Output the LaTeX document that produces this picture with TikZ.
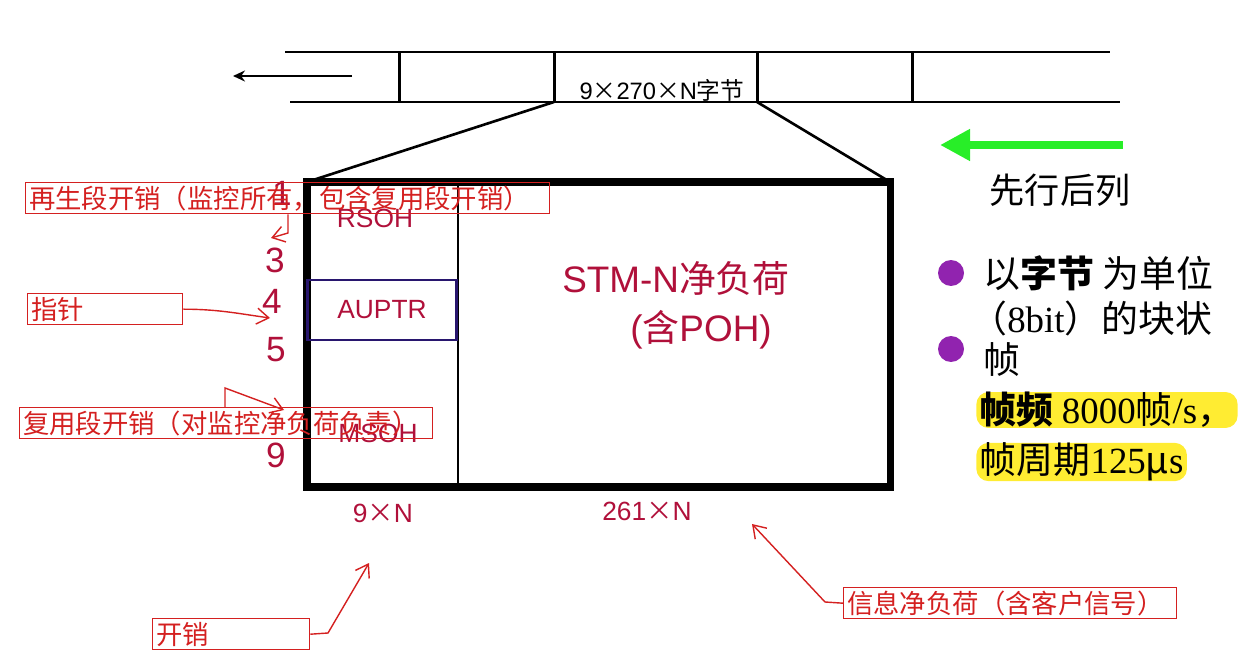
\documentclass[tikz,border=0pt]{standalone}
\usepackage{fontspec}
\setmainfont{Liberation Sans}
\newfontfamily\cjk{Noto Sans CJK SC}
\newfontfamily\latinserif{Liberation Serif}
\newcommand{\zh}[1]{{\cjk #1}}
\newcommand{\lt}[1]{{\latinserif #1}}
\usetikzlibrary{arrows.meta}

\definecolor{labelred}{RGB}{176,16,58}
\definecolor{noteRed}{RGB}{212,32,32}
\definecolor{auNavy}{RGB}{40,22,110}
\definecolor{arrowGreen}{RGB}{40,238,40}
\definecolor{bulletPurple}{RGB}{145,35,175}
\definecolor{markYellow}{RGB}{255,236,50}

\begin{document}
\begin{tikzpicture}[
  x=0.02cm, y=-0.02cm,
  % frame and strip lines
  strip/.style={line width=1.7pt, black},
  frame/.style={line width=4pt, black},
  ptrbox/.style={draw=auNavy, line width=1.7pt, minimum width=3cm, minimum height=1.2cm, inner sep=0pt, text=labelred, font=\fontsize{15}{15}\selectfont},
  % labels inside the frame
  rowno/.style={text=labelred, font=\fontsize{20}{20}\selectfont, inner sep=0pt},
  ohlabel/.style={text=labelred, font=\fontsize{15}{15}\selectfont, inner sep=0pt},
  bigred/.style={text=labelred, font=\fontsize{21}{21}\selectfont, inner sep=0pt},
  % red annotation boxes and their arrows
  notebox/.style={draw=noteRed, line width=0.8pt, text=noteRed, font=\cjk\fontsize{15}{15}\selectfont, anchor=north west, inner xsep=2pt, inner ysep=0pt, minimum height=0.62cm},
  notearrow/.style={draw=noteRed, line width=0.8pt, -{Straight Barb[length=2.4mm,width=3.2mm]}},
  % right side bullet list
  bullet/.style={circle, fill=bulletPurple, minimum size=0.52cm, inner sep=0pt},
  listtext/.style={anchor=west, inner sep=0pt, font=\cjk\fontsize{21}{21}\selectfont},
  hilite/.style={listtext, fill=markYellow, rounded corners=7pt, inner xsep=2pt, minimum height=0.72cm}
]
\useasboundingbox (0,0) rectangle (1243,658);

% Top strip of frames
\draw[strip] (285,52) -- (1110,52);
\draw[strip] (290,102) -- (1120,102);
\foreach \xx in {399,554,757,912}
  \draw[strip] (\xx,52) -- (\xx,102);
\node[inner sep=0pt, font=\fontsize{13.5}{13.5}\selectfont] (frmsize) at (662,90) {9\zh{×}270\zh{×}N\zh{字节}};
\coordinate (flowStart) at (352,76);
\coordinate (flowEnd) at (233,76);
\draw[line width=1.3pt, -{Stealth[length=2.4mm,width=2.2mm]}] (flowStart) -- (flowEnd);

% Zoom lines from the strip to the frame
\coordinate (zoomL) at (554,102);
\coordinate (zoomR) at (757,102);
\coordinate (frameNW) at (307,182);
\coordinate (frameNE) at (890,182);
\draw[line width=1.5pt] (zoomL) -- (frameNW);
\draw[line width=1.5pt] (zoomR) -- (frameNE);

% STM-N frame
\draw[frame] (frameNW) rectangle (890,487);
\draw[line width=1.2pt] (458,182) -- (458,487);
\node[ptrbox] (auptr) at (382,310) {AUPTR};
\node[ohlabel] (rsoh) at (375,218) {RSOH};
\node[ohlabel] (msoh) at (378,433) {MSOH};
\node[bigred] (payload) at (676,278) {STM-N\zh{净负荷}};
\node[bigred] (poh) at (701,330) {(\zh{含}POH)};

% Row numbers
\node[rowno] (row1) at (282,193) {1};
\node[rowno] (row3) at (275,260) {3};
\node[rowno] (row4) at (272,301) {4};
\node[rowno] (row5) at (276,350) {5};
\node[rowno] (row9) at (276,455) {9};

% Column widths
\node[ohlabel] (colOH) at (383,513) {9\zh{×}N};
\node[ohlabel] (colPL) at (647,511) {261\zh{×}N};

% Red annotations
\node[notebox, text width=10.34cm] (regen) at (25,182) {再生段开销（监控所有，包含复用段开销）};
\coordinate (regenBend) at (288,233);
\coordinate (regenTip) at (271,238);
\draw[notearrow] (regen.south -| regenBend) -- (regenBend) -- (regenTip);

\node[notebox, text width=2.96cm] (pointer) at (27,293) {指针};
\coordinate (ptrTip) at (270,318);
\draw[notearrow] (pointer.east) to[out=0, in=172] (ptrTip);

\node[notebox, text width=8.12cm] (msohNote) at (19,407) {复用段开销（对监控净负荷负责）};
\coordinate (msohBend) at (225,388);
\coordinate (msohTip) at (284,410);
\draw[notearrow] (msohNote.north -| msohBend) -- (msohBend) -- (msohTip);

\node[notebox, text width=3cm] (ovh) at (152,618) {开销};
\coordinate (ovhBend) at (328,633);
\coordinate (ovhTip) at (369,563);
\draw[notearrow] (ovh.east) -- (ovhBend) -- (ovhTip);

\node[notebox, text width=6.52cm] (info) at (843,587) {信息净负荷（含客户信号）};
\coordinate (infoBend) at (825,602);
\coordinate (infoTip) at (752,524);
\draw[notearrow] (info.west) -- (infoBend) -- (infoTip);

% Transmission order
\coordinate (greenStart) at (1123,145);
\coordinate (greenEnd) at (940,145);
\draw[arrowGreen, line width=4.8pt, -{Triangle[length=6mm,width=6mm]}] (greenStart) -- (greenEnd);
\node[inner sep=0pt, font=\cjk\fontsize{20}{20}\selectfont] (order) at (1060,190) {先行后列};

% Bullet list
\node[bullet] (dot1) at (951,273) {};
\node[listtext] (unit) at (983,273) {以\textbf{字节} 为单位};
\node[listtext] (block) at (970,318) {（\lt{8bit}）的块状};
\node[bullet] (dot2) at (951,349) {};
\node[listtext] (frm) at (983,360) {帧};
\node[hilite] (rate) at (976,410) {\textbf{帧频} \lt{8000}帧\lt{/s}，};
\node[hilite] (period) at (976,462) {帧周期\lt{125}μ\lt{s}};

\end{tikzpicture}
\end{document}
